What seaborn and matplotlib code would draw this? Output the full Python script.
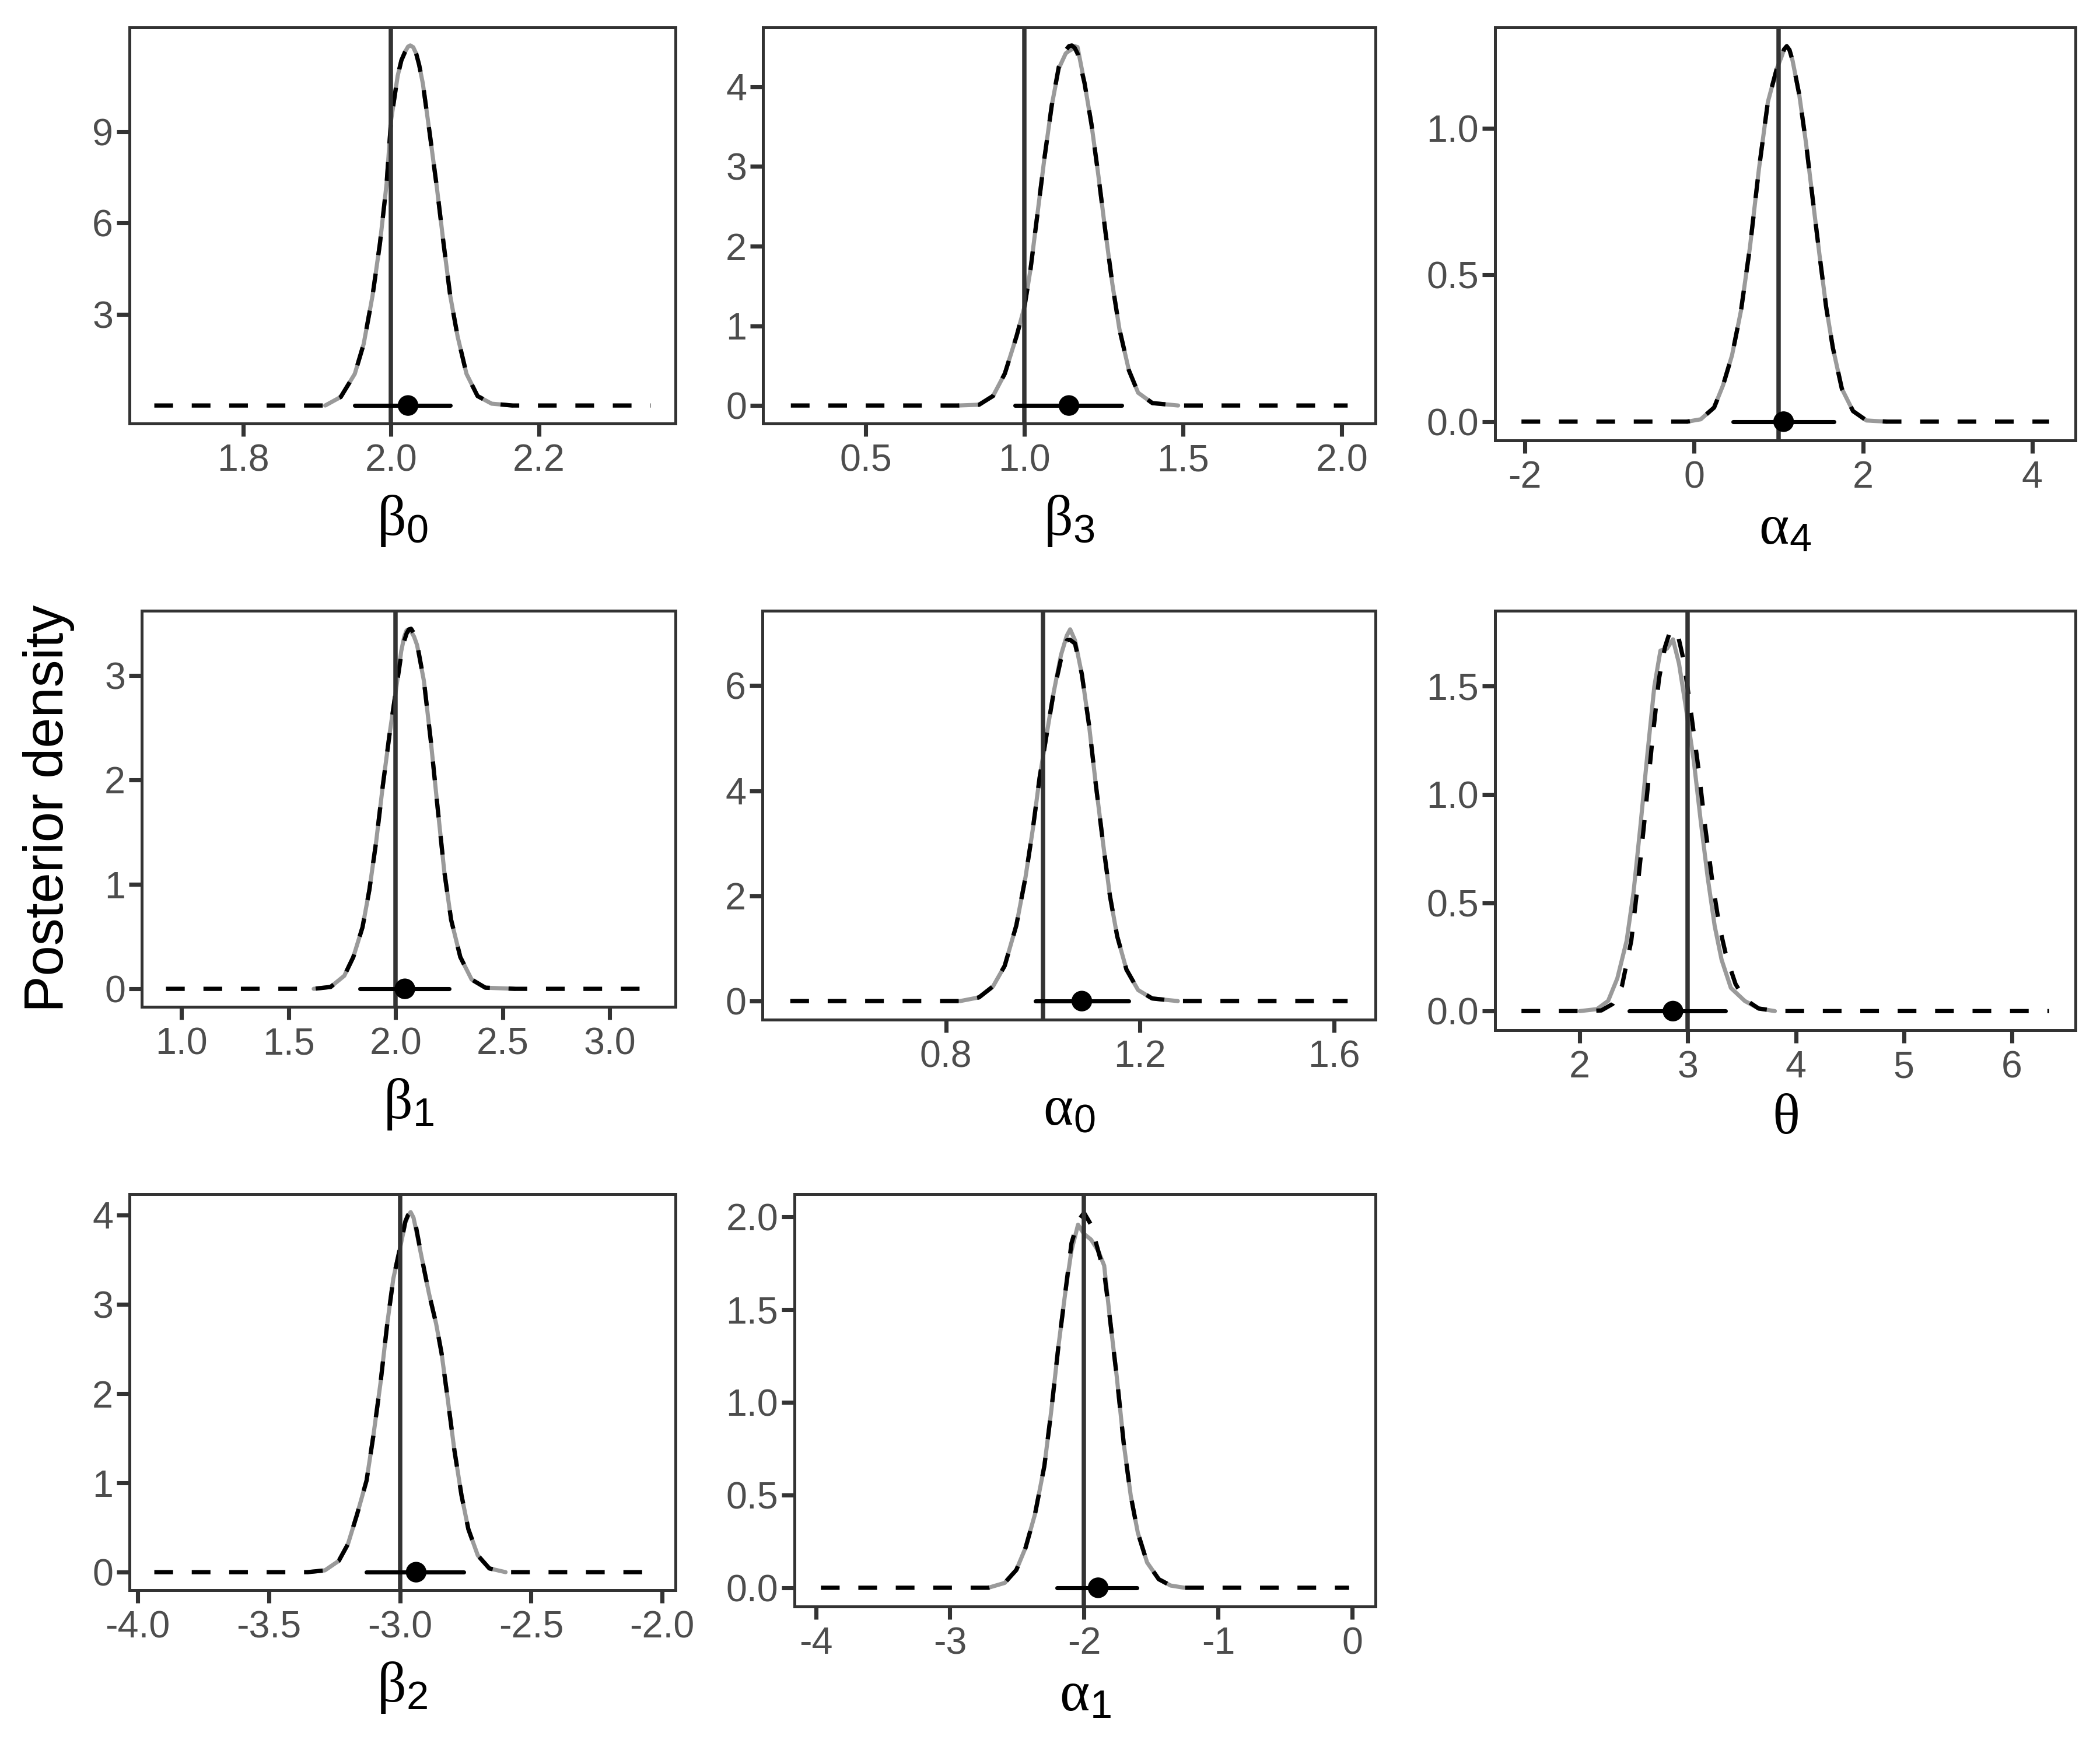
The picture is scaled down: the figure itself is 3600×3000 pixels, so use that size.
import matplotlib
matplotlib.use("Agg")
import matplotlib.pyplot as plt
import seaborn as sns
import numpy as np

# ---------------- data ----------------
# beta0
b0_x = [1.911, 1.932, 1.951, 1.963, 1.975, 1.985, 1.994, 2.000, 2.009, 2.014, 2.019, 2.023, 2.026, 2.030,
        2.034, 2.038, 2.043, 2.052, 2.062, 2.071, 2.080, 2.090, 2.102, 2.117, 2.136, 2.164]
b0_gray = [0, 0.28, 1.04, 2.02, 3.61, 5.33, 7.29, 9.37, 10.84, 11.35, 11.63, 11.80, 11.84, 11.78,
           11.57, 11.20, 10.59, 9.0, 7.16, 5.33, 3.61, 2.27, 1.04, 0.31, 0.06, 0]
b0_dash = [0, 0.28, 1.04, 2.02, 3.61, 5.33, 7.29, 9.37, 10.84, 11.35, 11.63, 11.80, 11.84, 11.78,
           11.57, 11.20, 10.59, 9.0, 7.16, 5.33, 3.61, 2.27, 1.04, 0.31, 0.06, 0]
b0_range = [1.680, 2.351]
b0_est = [2.023, 1.951, 2.080]
b0_true = 2.0

# beta3
b3_x = [0.791, 0.857, 0.901, 0.938, 0.975, 1.000, 1.019, 1.041, 1.063, 1.086, 1.108, 1.130, 1.140, 1.149,
        1.158, 1.167, 1.189, 1.211, 1.233, 1.255, 1.277, 1.299, 1.329, 1.358, 1.403, 1.484]
b3_gray = [0, 0.01, 0.12, 0.40, 0.87, 1.24, 1.71, 2.41, 3.11, 3.77, 4.23, 4.42, 4.45, 4.47,
           4.51, 4.50, 4.05, 3.53, 2.88, 2.18, 1.52, 0.96, 0.44, 0.16, 0.03, 0]
b3_dash = [0, 0.01, 0.12, 0.40, 0.87, 1.24, 1.71, 2.41, 3.11, 3.77, 4.25, 4.46, 4.51, 4.52,
           4.49, 4.42, 4.05, 3.53, 2.88, 2.18, 1.52, 0.96, 0.44, 0.16, 0.03, 0]
b3_range = [0.264, 2.018]
b3_est = [1.140, 0.970, 1.307]
b3_true = 1.0

# alpha4
a4_x = [-0.08, 0.08, 0.238, 0.344, 0.45, 0.556, 0.662, 0.768, 0.874, 0.98, 1.033, 1.065, 1.097, 1.130,
        1.166, 1.245, 1.325, 1.404, 1.484, 1.563, 1.643, 1.749, 1.881, 2.04, 2.279]
a4_gray = [0, 0.008, 0.048, 0.124, 0.226, 0.378, 0.594, 0.86, 1.089, 1.203, 1.241, 1.268, 1.279, 1.266,
           1.230, 1.114, 0.949, 0.759, 0.569, 0.391, 0.251, 0.112, 0.036, 0.004, 0]
a4_dash = [0, 0.008, 0.048, 0.124, 0.226, 0.378, 0.594, 0.86, 1.089, 1.203, 1.241, 1.268, 1.279, 1.266,
           1.230, 1.114, 0.949, 0.759, 0.569, 0.391, 0.251, 0.112, 0.036, 0.004, 0]
a4_range = [-2.04, 4.20]
a4_est = [1.06, 0.461, 1.659]
a4_true = 1.0

# beta1
b1_x = [1.617, 1.696, 1.760, 1.802, 1.845, 1.877, 1.909, 1.940, 1.972, 2.000, 2.026, 2.040, 2.051, 2.062,
        2.072, 2.086, 2.100, 2.132, 2.164, 2.196, 2.227, 2.259, 2.302, 2.355, 2.419, 2.557]
b1_gray = [0, 0.018, 0.125, 0.304, 0.589, 0.946, 1.411, 1.946, 2.446, 2.839, 3.232, 3.37, 3.43, 3.44,
           3.42, 3.37, 3.29, 2.946, 2.375, 1.732, 1.125, 0.661, 0.304, 0.089, 0.011, 0]
b1_dash = [0, 0.018, 0.125, 0.304, 0.589, 0.946, 1.411, 1.946, 2.446, 2.839, 3.20, 3.33, 3.40, 3.44,
           3.446, 3.40, 3.304, 2.946, 2.375, 1.732, 1.125, 0.661, 0.304, 0.089, 0.011, 0]
b1_range = [0.927, 3.194]
b1_est = [2.043, 1.834, 2.249]
b1_true = 2.0

# alpha0
a0_x = [0.829, 0.868, 0.897, 0.921, 0.945, 0.964, 0.979, 0.993, 1.008, 1.022, 1.037, 1.049, 1.056,
        1.066, 1.080, 1.095, 1.109, 1.124, 1.138, 1.153, 1.172, 1.196, 1.225, 1.278]
a0_gray = [0, 0.07, 0.28, 0.67, 1.44, 2.36, 3.27, 4.25, 5.10, 5.87, 6.58, 6.95, 7.07,
           6.86, 6.22, 5.24, 4.11, 2.99, 2.0, 1.23, 0.60, 0.21, 0.05, 0]
a0_dash = [0, 0.07, 0.28, 0.67, 1.44, 2.36, 3.27, 4.25, 5.10, 5.87, 6.50, 6.86, 6.87,
           6.80, 6.22, 5.24, 4.11, 2.99, 2.0, 1.23, 0.60, 0.21, 0.05, 0]
a0_range = [0.479, 1.628]
a0_est = [1.080, 0.984, 1.177]
a0_true = 1.0

# theta
th_gray_x = [2.0, 2.159, 2.263, 2.348, 2.434, 2.498, 2.563, 2.627, 2.691, 2.747, 2.807, 2.863, 2.919,
             2.979, 3.056, 3.120, 3.184, 3.249, 3.313, 3.399, 3.527, 3.656, 3.806]
th_gray = [0, 0.009, 0.047, 0.151, 0.324, 0.548, 0.86, 1.189, 1.5, 1.664, 1.673, 1.716, 1.604,
           1.413, 1.154, 0.877, 0.618, 0.393, 0.237, 0.107, 0.047, 0.012, 0]
th_dash_x = [2.03, 2.2, 2.305, 2.391, 2.477, 2.541, 2.606, 2.670, 2.734, 2.790, 2.841, 2.906, 2.961,
             3.021, 3.099, 3.163, 3.227, 3.292, 3.356, 3.442, 3.527, 3.656, 3.827]
th_dash = [0, 0.003, 0.033, 0.116, 0.324, 0.6, 0.912, 1.240, 1.535, 1.682, 1.760, 1.742, 1.621,
           1.413, 1.119, 0.843, 0.6, 0.393, 0.254, 0.125, 0.055, 0.012, 0]
th_range = [1.461, 6.344]
th_est = [2.863, 2.456, 3.347]
th_true = 3.0

# beta2
b2_x = [-3.352, -3.286, -3.233, -3.198, -3.163, -3.127, -3.101, -3.074, -3.048, -3.025, -3.0, -2.979,
        -2.969, -2.959, -2.948, -2.938, -2.915, -2.889, -2.862, -2.841, -2.818, -2.792, -2.765, -2.739,
        -2.703, -2.659, -2.597]
b2_gray = [0, 0.02, 0.126, 0.314, 0.649, 1.026, 1.529, 2.115, 2.785, 3.288, 3.623, 3.916,
           3.99, 4.033, 3.97, 3.832, 3.497, 3.120, 2.785, 2.450, 1.948, 1.361, 0.859, 0.482,
           0.188, 0.042, 0]
b2_dash = [0, 0.02, 0.126, 0.314, 0.649, 1.026, 1.529, 2.115, 2.785, 3.288, 3.623, 3.93,
           4.00, 4.03, 3.98, 3.86, 3.497, 3.120, 2.785, 2.450, 1.948, 1.361, 0.859, 0.482,
           0.188, 0.042, 0]
b2_range = [-3.936, -2.044]
b2_est = [-2.938, -3.127, -2.756]
b2_true = -3.0

# alpha1
a1_x = [-2.714, -2.592, -2.505, -2.436, -2.366, -2.296, -2.244, -2.192, -2.139, -2.094, -2.045, -2.0,
        -1.948, -1.895, -1.850, -1.808, -1.756, -1.704, -1.652, -1.599, -1.530, -1.443, -1.355, -1.251]
a1_gray = [0, 0.026, 0.096, 0.216, 0.396, 0.656, 0.956, 1.296, 1.596, 1.816, 1.956, 1.906,
           1.876, 1.816, 1.736, 1.456, 1.136, 0.776, 0.496, 0.296, 0.136, 0.046, 0.012, 0]
a1_dash = [0, 0.026, 0.096, 0.216, 0.396, 0.656, 0.956, 1.296, 1.596, 1.856, 1.976, 2.02,
           1.956, 1.816, 1.700, 1.456, 1.136, 0.776, 0.496, 0.296, 0.136, 0.046, 0.012, 0]
a1_range = [-3.962, -0.024]
a1_est = [-1.895, -2.202, -1.606]
a1_true = -2.0

# labels and ticks
titles = [r"$\mathrm{\beta}_{\mathsf{0}}$", r"$\mathrm{\beta}_{\mathsf{3}}$", r"$\mathrm{\alpha}_{\mathsf{4}}$",
          r"$\mathrm{\beta}_{\mathsf{1}}$", r"$\mathrm{\alpha}_{\mathsf{0}}$", r"$\mathrm{\theta}$",
          r"$\mathrm{\beta}_{\mathsf{2}}$", r"$\mathrm{\alpha}_{\mathsf{1}}$"]
xticks = [[1.8, 2.0, 2.2], [0.5, 1.0, 1.5, 2.0], [-2, 0, 2, 4],
          [1.0, 1.5, 2.0, 2.5, 3.0], [0.8, 1.2, 1.6], [2, 3, 4, 5, 6],
          [-4.0, -3.5, -3.0, -2.5, -2.0], [-4, -3, -2, -1, 0]]
xticklabels = [["1.8", "2.0", "2.2"], ["0.5", "1.0", "1.5", "2.0"], ["-2", "0", "2", "4"],
               ["1.0", "1.5", "2.0", "2.5", "3.0"], ["0.8", "1.2", "1.6"], ["2", "3", "4", "5", "6"],
               ["-4.0", "-3.5", "-3.0", "-2.5", "-2.0"], ["-4", "-3", "-2", "-1", "0"]]
yticks = [[3, 6, 9], [0, 1, 2, 3, 4], [0.0, 0.5, 1.0], [0, 1, 2, 3], [0, 2, 4, 6],
          [0.0, 0.5, 1.0, 1.5], [0, 1, 2, 3, 4], [0.0, 0.5, 1.0, 1.5, 2.0]]
yticklabels = [["3", "6", "9"], ["0", "1", "2", "3", "4"], ["0.0", "0.5", "1.0"], ["0", "1", "2", "3"],
               ["0", "2", "4", "6"], ["0.0", "0.5", "1.0", "1.5"], ["0", "1", "2", "3", "4"],
               ["0.0", "0.5", "1.0", "1.5", "2.0"]]
ylabel_text = "Posterior density"

gray_x = [b0_x, b3_x, a4_x, b1_x, a0_x, th_gray_x, b2_x, a1_x]
gray_y = [b0_gray, b3_gray, a4_gray, b1_gray, a0_gray, th_gray, b2_gray, a1_gray]
dash_x = [b0_x, b3_x, a4_x, b1_x, a0_x, th_dash_x, b2_x, a1_x]
dash_y = [b0_dash, b3_dash, a4_dash, b1_dash, a0_dash, th_dash, b2_dash, a1_dash]
ranges = [b0_range, b3_range, a4_range, b1_range, a0_range, th_range, b2_range, a1_range]
ests = [b0_est, b3_est, a4_est, b1_est, a0_est, th_est, b2_est, a1_est]
trues = [b0_true, b3_true, a4_true, b1_true, a0_true, th_true, b2_true, a1_true]

# ---------------- layout (pixels in a 3600x3000 canvas) ----------------
W, H = 3600, 3000
rects = [(222, 47, 1158, 726), (1308, 47, 2358, 726), (2563, 47, 3558, 755),
         (243, 1047, 1158, 1726), (1307, 1047, 2358, 1748), (2563, 1047, 3558, 1766),
         (222, 2047, 1158, 2726), (1362, 2047, 2358, 2754)]
title_y = [893, 893, 906, 1893, 1903, 1918, 2893, 2907]

sns.set_style("ticks")
plt.rcParams["font.family"] = ["Liberation Sans", "DejaVu Sans"]
plt.rcParams["mathtext.fontset"] = "custom"
plt.rcParams["mathtext.rm"] = "Liberation Serif"
plt.rcParams["mathtext.it"] = "Liberation Serif:italic"
plt.rcParams["mathtext.sf"] = "Liberation Sans"
plt.rcParams["axes.unicode_minus"] = False

fig = plt.figure(figsize=(12, 10), dpi=300)
fig.patch.set_facecolor("white")

GRAY = "#9a9a9a"
FRAME = "#333333"
TICKLAB = "#4D4D4D"

for i in range(8):
    L, T, R, B = rects[i]
    ax = fig.add_axes([L / W, 1 - B / H, (R - L) / W, (B - T) / H])
    ax.set_facecolor("white")
    lo, hi = ranges[i]
    dx = [lo] + list(dash_x[i]) + [hi]
    dy = [0] + list(dash_y[i]) + [0]
    sns.lineplot(x=gray_x[i], y=gray_y[i], ax=ax, color=GRAY, linewidth=1.7,
                 sort=False, estimator=None, zorder=2)
    sns.lineplot(x=dx, y=dy, ax=ax, color="black", linewidth=1.75, sort=False, estimator=None,
                 linestyle=(0, (4.4, 4.4)), zorder=3)
    ax.axvline(trues[i], color=FRAME, linewidth=1.8, zorder=4)
    est, elo, ehi = ests[i]
    sns.lineplot(x=[elo, ehi], y=[0, 0], ax=ax, color="black", linewidth=1.7,
                 sort=False, estimator=None, zorder=5)
    sns.scatterplot(x=[est], y=[0], ax=ax, color="black", s=72, edgecolor="none", zorder=6)
    ax.margins(x=0.05, y=0.05)
    ax.set_xticks(xticks[i])
    ax.set_xticklabels(xticklabels[i])
    ax.set_yticks(yticks[i])
    ax.set_yticklabels(yticklabels[i])
    ax.tick_params(axis="both", which="major", length=5.2, width=1.7, color=FRAME,
                   labelsize=15.5, labelcolor=TICKLAB)
    ax.tick_params(axis="x", pad=3)
    ax.tick_params(axis="y", pad=1.5)
    for sp in ax.spines.values():
        sp.set_visible(True)
        sp.set_color(FRAME)
        sp.set_linewidth(1.2)
    ax.set_xlabel("")
    ax.set_ylabel("")
    fig.text((L + R) / 2 / W, 1 - title_y[i] / H, titles[i], fontsize=23.5, ha="center",
             va="center", color="black")

fig.text(84 / W, 1 - 1386 / H, ylabel_text, fontsize=22.5, rotation=90, ha="center",
         va="center", color="black")

fig.savefig("out.png", dpi=300, facecolor="white")
